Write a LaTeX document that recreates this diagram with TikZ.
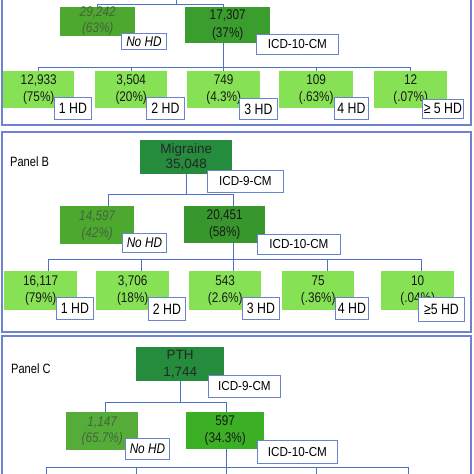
\documentclass[tikz,border=0pt]{standalone}
\usepackage{fontspec}
\setmainfont{Liberation Sans}
\newfontfamily\nf{Liberation Sans}[FakeStretch=0.84]
\newfontfamily\lf{Liberation Sans}[FakeStretch=0.82]
\newfontfamily\icf{Liberation Sans}[FakeStretch=0.9]
\usetikzlibrary{calc}
\definecolor{framec}{HTML}{6E82D2}
\definecolor{connc}{HTML}{5070C8}
\definecolor{lblc}{HTML}{6A84CC}
\definecolor{lgreen}{HTML}{86E254}
\definecolor{mgreen}{HTML}{4CA82E}
\definecolor{ggreen}{HTML}{3A9E2E}
\definecolor{bgreen}{HTML}{3CB024}
\definecolor{dgreen}{HTML}{248C3C}
\definecolor{itc}{HTML}{46643C}
\begin{document}
\begin{tikzpicture}[x=1pt,y=-1pt,
  frame/.style={draw=framec,line width=1.4pt},
  conn/.style={draw=connc,line width=0.9pt},
  gbox/.style={rectangle,anchor=north west,inner sep=0pt,align=center,text=black!90},
  lgbox/.style={gbox,fill=lgreen,minimum height=37pt,font=\nf\fontsize{14}{17.5}\selectfont},
  nohd/.style={gbox,fill=mgreen,text=itc,font=\nf\fontsize{14}{16}\selectfont\itshape},
  yesbox/.style={gbox,fill=ggreen,font=\nf\fontsize{14}{17.5}\selectfont},
  rootbox/.style={gbox,fill=dgreen,text=black!85,font=\fontsize{13.5}{15.5}\selectfont},
  lbl/.style={rectangle,anchor=north west,draw=lblc,fill=white,line width=0.8pt,inner sep=0pt,font=\icf\fontsize{13}{14}\selectfont},
  hdl/.style={lbl,font=\lf\fontsize{15}{16}\selectfont},
  nol/.style={lbl,font=\nf\fontsize{14}{15}\selectfont\itshape},
  ptitle/.style={anchor=west,inner sep=0pt,font=\lf\fontsize{13.5}{15}\selectfont}
]
\useasboundingbox (0,0) rectangle (474,474);
\clip (0,0) rectangle (474,474);

% ---------------- Panel A ----------------
\draw[frame] (2,-10) rectangle (471,125);
\node[nohd,minimum width=75pt,minimum height=28pt] (a2l) at (60,7) {29,242\\(63\%)};
\node[yesbox,minimum width=85pt,minimum height=36pt] (a2r) at (185,7) {17,307\\(37\%)};
\node[nol,minimum width=45pt,minimum height=16pt] (a2lL) at (121,33) {No HD};
\node[lbl,minimum width=82pt,minimum height=20pt] (a2rL) at (256,34) {ICD-10-CM};
\coordinate (aTop) at (176,-5);
\coordinate (aJ) at (176,4);
\draw[conn] (aTop) -- (aJ);
\draw[conn] (a2l.north) -- ++(0,-3) -| ([xshift=-4.5pt]a2r.north);

\node[lgbox,minimum width=71pt] (a31) at (3,71) {12,933\\(75\%)};
\node[lgbox,minimum width=72pt] (a32) at (95,71) {3,504\\(20\%)};
\node[lgbox,minimum width=73pt] (a33) at (187,71) {749\\(4.3\%)};
\node[lgbox,minimum width=74pt] (a34) at (279,71) {109\\(.63\%)};
\node[lgbox,minimum width=73pt] (a35) at (374,71) {12\\(.07\%)};
\node[hdl,minimum width=37pt,minimum height=22pt] (a31L) at (54,97) {1 HD};
\node[hdl,minimum width=38pt,minimum height=22pt] (a32L) at (146,97) {2 HD};
\node[hdl,minimum width=38pt,minimum height=21pt] (a33L) at (239,98) {3 HD};
\node[hdl,minimum width=34pt,minimum height=22pt] (a34L) at (334,97) {4 HD};
\node[hdl,minimum width=41pt,minimum height=19pt] (a35L) at (422,99) {≥ 5 HD};
\foreach \c in {a31,a32,a33,a34,a35}
  \draw[conn] ([xshift=-4.5pt]a2r.south) -- ++(0,24) -| (\c.north);

% ---------------- Panel B ----------------
\draw[frame] (2,132) rectangle (471,332);
\node[ptitle] (pB) at (10,162) {Panel B};
\node[rootbox,minimum width=92pt,minimum height=34pt] (bRoot) at (140,140) {Migraine\\35,048};
\node[lbl,minimum width=76pt,minimum height=22pt] (bRootL) at (207,170) {ICD-9-CM};
\node[nohd,minimum width=74pt,minimum height=38pt,font=\nf\fontsize{14}{17}\selectfont\itshape] (b2l) at (60,206) {14,597\\(42\%)};
\node[yesbox,fill=ggreen!95!black,minimum width=81pt,minimum height=37pt] (b2r) at (184,206) {20,451\\(58\%)};
\node[nol,minimum width=44pt,minimum height=19pt] (b2lL) at (122,233) {No HD};
\node[lbl,minimum width=83pt,minimum height=20pt] (b2rL) at (257,234) {ICD-10-CM};
\draw[conn] (bRoot.south) -- ++(0,20) -| ([xshift=11pt]b2l.north);
\draw[conn] (bRoot.south) -- ++(0,20) -| ([xshift=8.5pt]b2r.north);

\node[lgbox,minimum width=73pt,minimum height=39pt,font=\nf\fontsize{14}{17}\selectfont] (b31) at (4,271) {16,117\\(79\%)};
\node[lgbox,minimum width=73pt,minimum height=39pt,font=\nf\fontsize{14}{17}\selectfont] (b32) at (96,271) {3,706\\(18\%)};
\node[lgbox,minimum width=72pt,minimum height=39pt,font=\nf\fontsize{14}{17}\selectfont] (b33) at (189,271) {543\\(2.6\%)};
\node[lgbox,minimum width=72pt,minimum height=39pt,font=\nf\fontsize{14}{17}\selectfont] (b34) at (282,271) {75\\(.36\%)};
\node[lgbox,minimum width=73pt,minimum height=39pt,font=\nf\fontsize{14}{17}\selectfont] (b35) at (381,271) {10\\(.04\%)};
\node[hdl,minimum width=37pt,minimum height=22pt] (b31L) at (56,297) {1 HD};
\node[hdl,minimum width=37pt,minimum height=23pt] (b32L) at (148,297) {2 HD};
\node[hdl,minimum width=37pt,minimum height=22pt] (b33L) at (242,297) {3 HD};
\node[hdl,minimum width=33pt,minimum height=22pt] (b34L) at (335,297) {4 HD};
\node[hdl,minimum width=46pt,minimum height=24pt] (b35L) at (418,297) {≥5 HD};
\draw[conn] ([xshift=8.5pt]b2r.south) -- ++(0,16) -| ([xshift=7.5pt]b31.north);
\draw[conn] ([xshift=8.5pt]b2r.south) -- ++(0,16) -| ([xshift=8.5pt]b32.north);
\draw[conn] ([xshift=8.5pt]b2r.south) -- ++(0,16) -| ([xshift=8pt]b33.north);
\draw[conn] ([xshift=8.5pt]b2r.south) -- ++(0,16) -| ([xshift=9pt]b34.north);
\draw[conn] ([xshift=8.5pt]b2r.south) -- ++(0,16) -| ([xshift=3.5pt]b35.north);

% ---------------- Panel C ----------------
\draw[frame] (2,336) rectangle (471,490);
\node[ptitle] (pC) at (11,369) {Panel C};
\node[rootbox,minimum width=88pt,minimum height=34pt,font=\fontsize{13.5}{16.5}\selectfont] (cRoot) at (136,347) {PTH\\1,744};
\node[lbl,minimum width=72pt,minimum height=22pt] (cRootL) at (208,375) {ICD-9-CM};
\node[nohd,fill=mgreen!95!white,minimum width=72pt,minimum height=38pt,font=\nf\fontsize{14}{16.5}\selectfont\itshape] (c2l) at (66,412) {1,147\\(65.7\%)};
\node[yesbox,fill=bgreen,minimum width=78pt,minimum height=37pt] (c2r) at (186,412) {597\\(34.3\%)};
\node[nol,minimum width=44pt,minimum height=21pt] (c2lL) at (125,438) {No HD};
\node[lbl,minimum width=80pt,minimum height=23pt] (c2rL) at (257,440) {ICD-10-CM};
\draw[conn] (cRoot.south) -- ++(0,21) -| ([xshift=3pt]c2l.north);
\draw[conn] (cRoot.south) -- ++(0,21) -| ([xshift=1pt]c2r.north);
\coordinate (c31) at (46,480);
\coordinate (c32) at (136,480);
\coordinate (c33) at (226,480);
\coordinate (c34) at (316,480);
\coordinate (c35) at (408,480);
\foreach \c in {c31,c32,c33,c34,c35}
  \draw[conn] ([xshift=1pt]c2r.south) -- ++(0,18) -| (\c);
\end{tikzpicture}
\end{document}
